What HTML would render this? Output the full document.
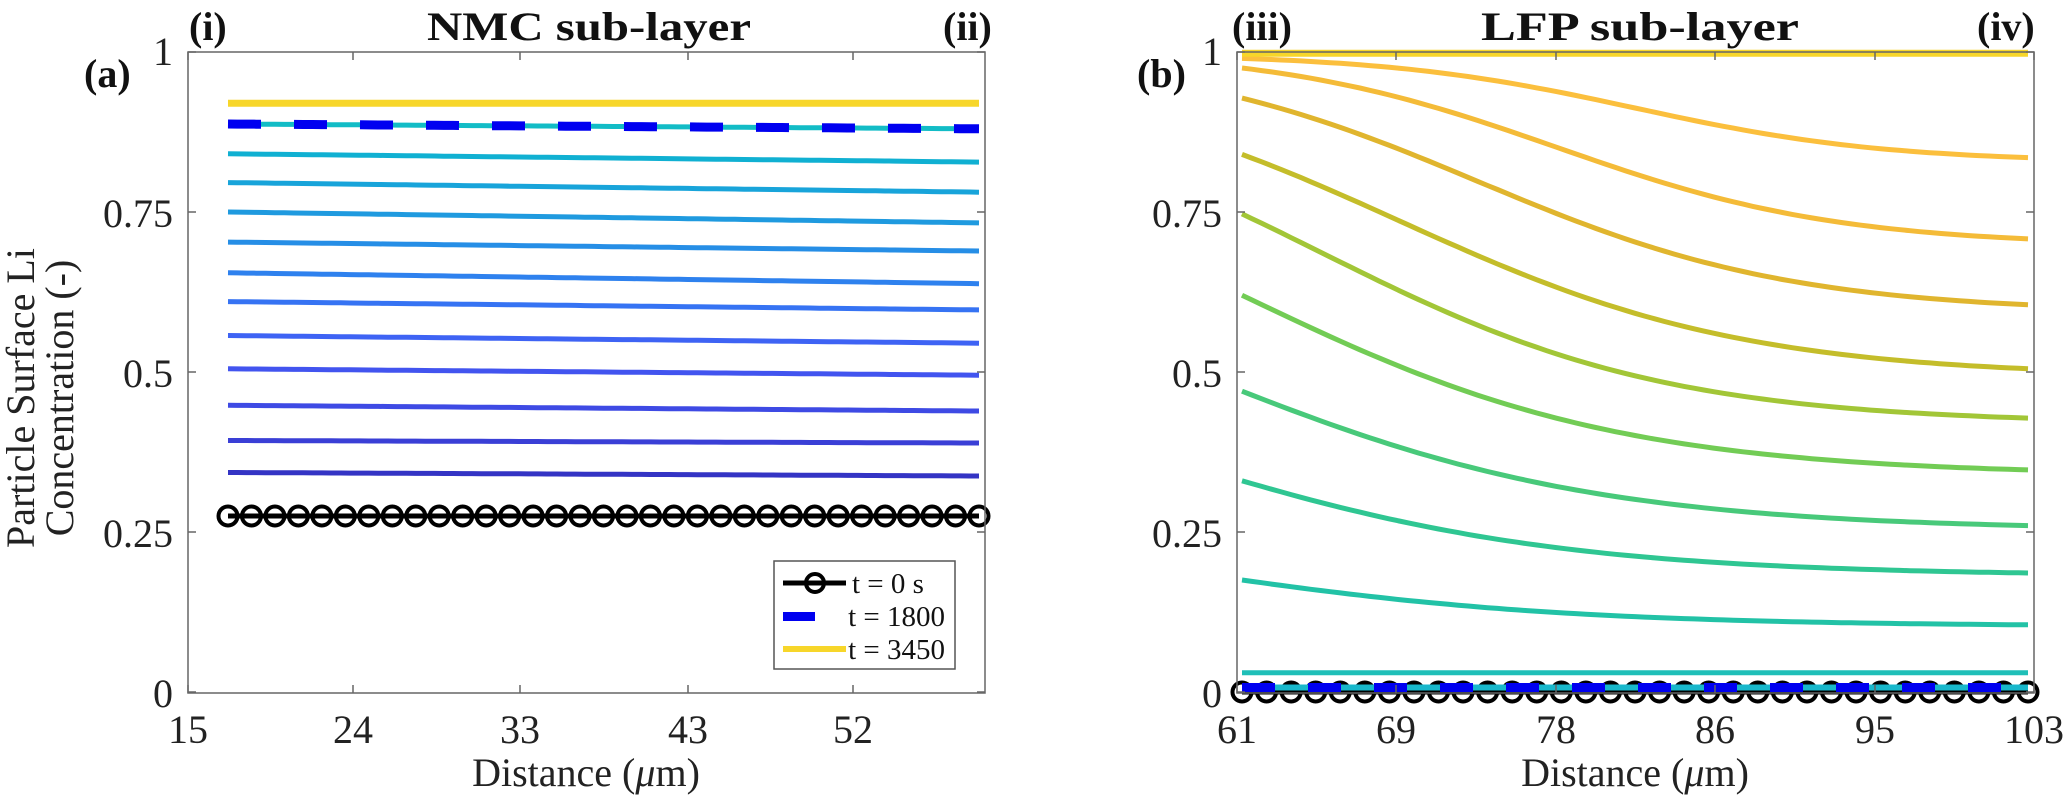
<!DOCTYPE html>
<html><head><meta charset="utf-8"><style>
html,body{margin:0;padding:0;background:#fff;}
svg{display:block;}
</style></head><body>
<svg id="s" width="2065" height="805" viewBox="0 0 2065 805" xmlns="http://www.w3.org/2000/svg" font-family="Liberation Serif, serif">
<g id="plots"></g>
<rect x="188" y="52" width="797" height="641" fill="none" stroke="#666" stroke-width="1.5"/>
<rect x="1237" y="52" width="797" height="641" fill="none" stroke="#666" stroke-width="1.5"/>
<g id="ticks" stroke="#666" stroke-width="1.5"></g>
<g font-size="40" text-anchor="end" fill="#222" font-family="Liberation Serif, serif">
<text x="173" y="65">1</text>
<text x="173" y="227">0.75</text>
<text x="173" y="387">0.5</text>
<text x="173" y="547">0.25</text>
<text x="173" y="707">0</text>
<text x="1222" y="65">1</text>
<text x="1222" y="227">0.75</text>
<text x="1222" y="387">0.5</text>
<text x="1222" y="547">0.25</text>
<text x="1222" y="707">0</text>
</g>
<g font-size="40" text-anchor="middle" fill="#222" font-family="Liberation Serif, serif">
<text x="188" y="743">15</text>
<text x="353" y="743">24</text>
<text x="520" y="743">33</text>
<text x="688" y="743">43</text>
<text x="853" y="743">52</text>
<text x="1237" y="743">61</text>
<text x="1396" y="743">69</text>
<text x="1556" y="743">78</text>
<text x="1715" y="743">86</text>
<text x="1875" y="743">95</text>
<text x="2034" y="743">103</text>
<text x="586" y="786">Distance (<tspan font-style="italic">μ</tspan>m)</text>
<text x="1635" y="786">Distance (<tspan font-style="italic">μ</tspan>m)</text>
</g>
<g font-size="40" text-anchor="middle" fill="#222" font-family="Liberation Serif, serif">
<text transform="translate(34,398) rotate(-90)">Particle Surface Li</text>
<text transform="translate(73,398) rotate(-90)">Concentration (-)</text>
</g>
<g font-size="40" font-weight="bold" text-anchor="middle" fill="#111" font-family="Liberation Serif, serif">
<text x="589" y="40" textLength="324" lengthAdjust="spacingAndGlyphs">NMC sub-layer</text>
<text x="1640" y="40" textLength="318" lengthAdjust="spacingAndGlyphs">LFP sub-layer</text>
</g>
<g font-size="40" font-weight="bold" fill="#111" font-family="Liberation Serif, serif">
<text x="189" y="40">(i)</text>
<text x="943" y="40">(ii)</text>
<text x="1232" y="40">(iii)</text>
<text x="1977" y="40">(iv)</text>
<text x="84" y="87">(a)</text>
<text x="1137" y="87">(b)</text>
</g>
<rect x="774" y="561" width="181" height="108" fill="#fff" stroke="#555" stroke-width="1.5"/>
<line x1="783" y1="583" x2="846" y2="583" stroke="#000" stroke-width="5"/>
<circle cx="815" cy="583" r="9" fill="none" stroke="#000" stroke-width="4"/>
<rect x="783" y="612" width="32" height="9" fill="#0000f0"/>
<line x1="783" y1="649" x2="846" y2="649" stroke="#f7d62a" stroke-width="6"/>
<g font-size="29" fill="#111" font-family="Liberation Serif, serif">
<text x="852" y="593">t = 0 s</text>
<text x="945" y="626" text-anchor="end">t = 1800</text>
<text x="945" y="659" text-anchor="end">t = 3450</text>
</g>
</svg>
<script>
var NS="http://www.w3.org/2000/svg";
var P=document.getElementById("plots"), T=document.getElementById("ticks");
function el(tag,a,par){var e=document.createElementNS(NS,tag);for(var k in a)e.setAttribute(k,a[k]);(par||P).appendChild(e);return e;}
function Y(v){return 692-640*v;}
[0,0.25,0.5,0.75,1].forEach(function(v){var y=Y(v);
 [[188,985],[1237,2034]].forEach(function(p){
  el("line",{x1:p[0],y1:y,x2:p[0]+8,y2:y},T);el("line",{x1:p[1],y1:y,x2:p[1]-8,y2:y},T);});});
[188,353,520,688,853].concat([1237,1396,1556,1715,1875,2034]).forEach(function(x){
 el("line",{x1:x,y1:693,x2:x,y2:685},T);el("line",{x1:x,y1:52,x2:x,y2:60},T);});
function line(x0,x1,v0,v1,fn,col,w,extra){
 var d="";for(var i=0;i<=80;i++){var s=i/80;var v=v1+(v0-v1)*fn(s);d+=(i?"L":"M")+(x0+(x1-x0)*s).toFixed(1)+","+Y(v).toFixed(1);}
 var a={d:d,fill:"none",stroke:col,"stroke-width":w};for(var k in extra)a[k]=extra[k];return el("path",a);}
function lin(s){return 1-s;}
function circles(x0,x1,v){el("line",{x1:x0,y1:Y(v),x2:x1,y2:Y(v),stroke:"#000","stroke-width":5});
 for(var i=0;i<=32;i++){el("circle",{cx:x0+(x1-x0)*i/32,cy:Y(v),r:9.5,fill:"none",stroke:"#000","stroke-width":4});}}
var L=[[0.343,0.3375,"#3434c4"],[0.393,0.389,"#3a3fd6"],[0.448,0.439,"#3e4ae4"],[0.505,0.495,"#4254ef"],
[0.557,0.545,"#3e63f4"],[0.61,0.597,"#3673f3"],[0.655,0.638,"#2e81ee"],[0.703,0.689,"#268ee6"],
[0.75,0.733,"#1f9adf"],[0.796,0.781,"#18a4da"],[0.841,0.828,"#10b0d2"]];
circles(228,979,0.275);
L.forEach(function(c){line(228,979,c[0],c[1],lin,c[2],5);});
line(228,979,0.8875,0.88,lin,"#12bcc6",5);
line(228,979,0.8875,0.88,lin,"#0000f0",9,{"stroke-dasharray":"33 33"});
line(228,979,0.92,0.92,lin,"#f7d62a",7);
function sig(c,w){function g(s){return 1/(1+Math.exp((s-c)/w));}var g0=g(0),g1=g(1);return function(s){return (g(s)-g1)/(g0-g1);};}
circles(1242,2028,0.0);
var R=[[0.175,0.105,"#22c2a6",-0.1,0.25],[0.33,0.186,"#2fc692",-0.1,0.25],[0.47,0.26,"#48c97a",-0.05,0.25],
[0.62,0.347,"#72cc55",0.0,0.24],[0.747,0.428,"#a2c637",0.1,0.22],[0.84,0.505,"#c4bd2a",0.2,0.22],
[0.928,0.605,"#e0b52e",0.3,0.2],[0.975,0.708,"#f4bb38",0.4,0.18],[0.99,0.835,"#fbbf3d",0.5,0.16]];
line(1242,2028,0.03,0.03,lin,"#1fbfb8",5);
line(1242,2028,0.007,0.007,lin,"#18b8cc",6);
line(1242,2028,0.007,0.007,lin,"#0000f0",9,{"stroke-dasharray":"33 33"});
R.forEach(function(c){line(1242,2028,c[0],c[1],sig(c[3],c[4]),c[2],5);});
line(1242,2028,0.998,0.998,lin,"#f7d62a",7);
</script>
</body></html>
